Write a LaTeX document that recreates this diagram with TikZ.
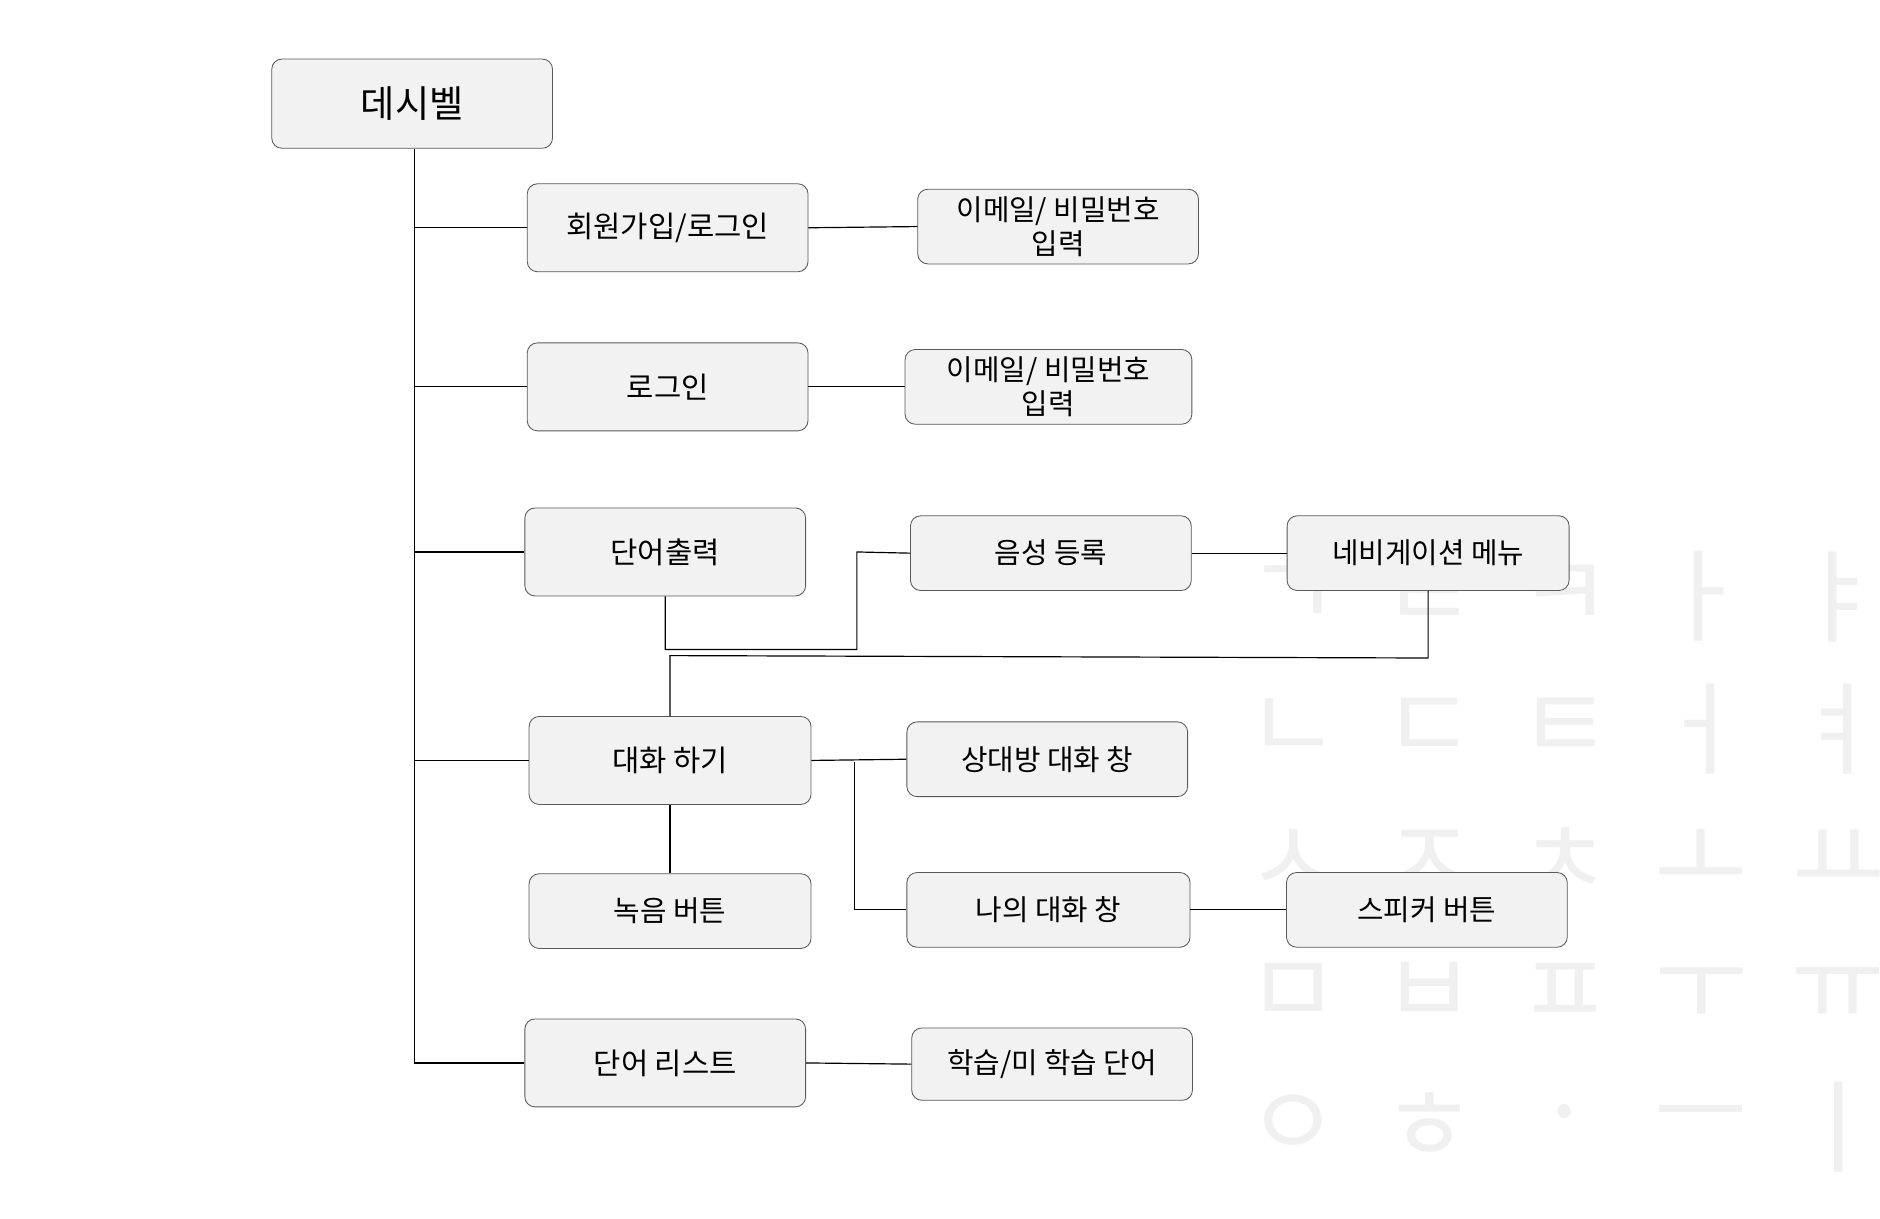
\documentclass[tikz,border=0pt]{standalone}
\usepackage{fontspec}
\setmainfont{Noto Sans CJK KR}
\begin{document}
\begin{tikzpicture}[x=0.05cm,y=-0.05cm,
 box/.style={draw=black!65,line width=1pt,fill=black!5,rounded corners=12pt,minimum width=11.65cm,minimum height=3.65cm,align=center,font=\fontsize{35}{40}\selectfont,inner sep=0pt},
 sbox/.style={box,minimum height=3.1cm,font=\fontsize{34}{40}\selectfont},
 ln/.style={line width=1.4pt},
 bg/.style={text=black!6,font=\fontsize{120}{120}\selectfont}]
\useasboundingbox (0,0) rectangle (1560,1011);
% faint background jamo
\foreach \r/\y in {{ㄱ,ㄹ,ㅋ,ㅏ,ㅑ}/495,{ㄴ,ㄷ,ㅌ,ㅓ,ㅕ}/605,{ㅅ,ㅈ,ㅊ,ㅗ,ㅛ}/715,{ㅁ,ㅂ,ㅍ,ㅜ,ㅠ}/825,{ㅇ,ㅎ,·,ㅡ,ㅣ}/935}{
 \foreach \c [count=\i] in \r { \node[bg] at (960+\i*113,\y) {\c}; } }
\node[box,minimum height=3.7cm,font=\fontsize{44}{48}\selectfont] (root) at (342,86) {데시벨};
\node[box] (join) at (554,189) {회원가입/로그인};
\node[sbox] (em1) at (878,188) {이메일/ 비밀번호\\입력};
\node[box] (login) at (554,321) {로그인};
\node[sbox,minimum width=11.9cm] (em2) at (870,321) {이메일/ 비밀번호\\입력};
\node[box] (word) at (552,458) {단어출력};
\node[sbox] (voice) at (872,459) {음성 등록};
\node[sbox,minimum width=11.7cm] (navi) at (1185,459) {네비게이션 메뉴};
\node[box,minimum width=11.7cm] (talk) at (556,631) {대화 하기};
\node[sbox] (other) at (869,630) {상대방 대화 창};
\node[sbox,minimum width=11.7cm] (rec) at (556,756) {녹음 버튼};
\node[sbox,minimum width=11.75cm] (mine) at (870,755) {나의 대화 창};
\node[sbox] (spk) at (1184,755) {스피커 버튼};
\node[box] (list) at (552,882) {단어 리스트};
\node[sbox,minimum width=11.65cm,minimum height=3cm] (study) at (873,883) {학습/미 학습 단어};
\draw[ln] (root.south) ++(2,0) |- (list.west);
\foreach \n in {join,login,word,talk}{\draw[ln] (344,0 |- \n.west) -- (\n.west);}
\draw[ln] (join.east) -- (em1.west);
\draw[ln] (login.east) -- (em2.west);
\draw[ln] (voice.east) -- (navi.west);
\draw[ln] (word.south) -- (552,539) -- (711,539) -- (711,458) -- (voice.west);
\draw[ln] (navi.south) -- (1185,546) -- (556,544) -- (talk.north);
\draw[ln] (talk.east) -- (other.west);
\draw[ln] (709,632) |- (mine.west);
\draw[ln] (talk.south) -- (rec.north);
\draw[ln] (mine.east) -- (spk.west);
\draw[ln] (list.east) -- (study.west);
\end{tikzpicture}
\end{document}
